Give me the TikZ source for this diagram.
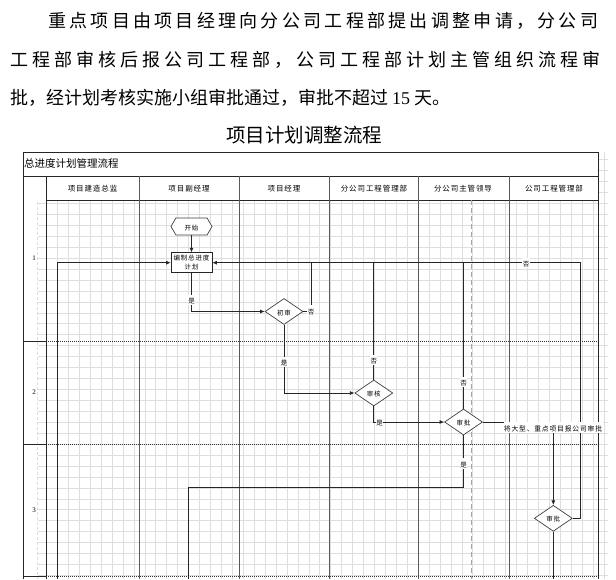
\documentclass[tikz,border=0pt]{standalone}
\usepackage{fontspec}
\setmainfont{Noto Sans CJK SC}
\newfontfamily\numfont{Liberation Serif}
\newfontfamily\spfont[LetterSpace=12]{Noto Sans CJK SC}
\usetikzlibrary{arrows.meta,shapes.geometric,shapes.symbols}
\newcommand\spreadbox[2]{{\spaceskip=0pt plus 1fil\xspaceskip=0pt plus 1fil\makebox[#1][s]{#2}}}
\tikzset{
 gridl/.style={draw=black!13, line width=0.5pt},
 frameline/.style={draw=black!85, line width=0.8pt},
 laneline/.style={draw=black!65, line width=0.9pt},
 rowdiv/.style={draw=black!80, line width=0.6pt, dash pattern=on 1pt off 1pt},
 conn/.style={draw=black!85, line width=0.7pt},
 arr/.style={conn, -{Latex[length=4.5pt,width=4pt]}},
 small/.style={font=\spfont\fontsize{6.5}{7.5}\selectfont, text height=0.82em, text depth=0.12em},
 dia/.style={diamond, draw=black!75, fill=white, line width=0.7pt, minimum width=38pt, minimum height=26pt, inner sep=0pt, small},
 lbl/.style={small, fill=white, inner sep=0.4pt},
 hdr/.style={font=\spfont\fontsize{7.5}{9}\selectfont, text height=0.82em, text depth=0.12em, inner sep=0pt},
 para/.style={font=\fontsize{18}{20}\selectfont, anchor=base west, inner sep=0pt},
}
\begin{document}
\begin{tikzpicture}[x=1pt,y=-1pt]
\useasboundingbox (0,0) rectangle (616,579);
\fill[white] (0,0) rectangle (616,579);
% paragraph
\node[para] (p1) at (48,27.8) {\spreadbox{550pt}{重 点 项 目 由 项 目 经 理 向 分 公 司 工 程 部 提 出 调 整 申 请 ， 分 公 司}};
\node[para] (p2) at (10,66.3) {\spreadbox{590pt}{工 程 部 审 核 后 报 公 司 工 程 部 ， 公 司 工 程 部 计 划 主 管 组 织 流 程 审}};
\node[para] (p3) at (10,104.8) {批，经计划考核实施小组审批通过，审批不超过 {\numfont 15} 天。};
\node[anchor=base, font=\fontsize{19.5}{22}\selectfont, inner sep=0pt] (ttl0) at (304,142) {项目计划调整流程};
% grid
\foreach \i in {1,...,52} \draw[gridl] ({35.5+10.93*\i},152) -- ({35.5+10.93*\i},579);
\foreach \j in {-4,...,34} \draw[gridl] (37.7,{203.4+10.94*\j}) -- (608,{203.4+10.94*\j});
\draw[gridl, dash pattern=on 3pt off 2pt] (37.7,152) -- (37.7,579);
\fill[white] (23,152) rectangle (598,200);
% frame
\draw[frameline] (23,152) -- (598,152);
\draw[frameline] (23,152) -- (23,579);
\draw[frameline] (598,152) -- (598,579);
\draw[frameline] (23,176) -- (598,176);
\draw[frameline] (46,200) -- (598,200);
\draw[frameline] (46,176) -- (46,579);
\foreach \x in {139.3,239,329,418.7,509.3} \draw[laneline] (\x,176) -- (\x,579);
\foreach \y in {341,444,576} {\draw[frameline] (23,\y) -- (46,\y); \draw[rowdiv] (46,\y) -- (598,\y);}
\draw[draw=black!35, line width=0.6pt, dash pattern=on 5pt off 3pt] (471.7,200) -- (471.7,579);
% titles and headers
\node[anchor=west, font=\fontsize{10.5}{12}\selectfont, inner sep=0pt, text height=0.82em, text depth=0.12em] (ttl) at (24,164) {总进度计划管理流程};
\node[hdr] (h1) at (92.5,188) {项目建造总监};
\node[hdr] (h2) at (189,188) {项目副经理};
\node[hdr] (h3) at (284,188) {项目经理};
\node[hdr] (h4) at (374,188) {分公司工程管理部};
\node[hdr] (h5) at (463,188) {分公司主管领导};
\node[hdr] (h6) at (554,188) {公司工程管理部};
\node[font=\numfont\fontsize{7}{8}\selectfont] (r1) at (34,258) {1};
\node[font=\numfont\fontsize{7}{8}\selectfont] (r2) at (34,392) {2};
\node[font=\numfont\fontsize{7}{8}\selectfont] (r3) at (34,510) {3};
% nodes
\node[signal, signal to=west and east, signal pointer angle=120, draw=black!75, fill=white, line width=0.7pt, minimum width=41pt, minimum height=17pt, inner sep=0pt, small] (start) at (191.5,226.5) {开始};
\node[draw=black!85, fill=white, line width=0.7pt, minimum width=41pt, minimum height=20pt, align=center, inner sep=0pt, font=\spfont\fontsize{6.5}{9.5}\selectfont] (box) at (191.5,262.7) {编制总进度\\计划};
\node[dia] (d1) at (284,311.5) {初审};
\node[dia] (d2) at (373.8,393) {审核};
\node[dia] (d3) at (463.5,422) {审批};
\node[dia] (d4) at (553.3,518.3) {审批};
% coordinates
\coordinate (inL) at (57.7,579);
\coordinate (j1) at (311,262.7);
\coordinate (j5) at (580.7,262.7);
\coordinate (j2) at (373.8,262.7);
\coordinate (j3) at (463.5,262.7);
\coordinate (b1) at (188.7,487.5);
\coordinate (e1) at (188.7,579);
\coordinate (e2) at (553.3,579);
% connectors
\draw[arr] (start.south) -- (box.north);
\draw[arr] (inL) |- (box.west);
\draw[arr] (box.south) |- (d1.west);
\draw[conn] (d1.east) -| (j1);
\draw[conn, line width=1.5pt] (j1) -- ([xshift=4pt]box.east);
\draw[arr] (d4.east) -| (j5) -- (box.east);
\draw[conn] (d2.north) -- (j2);
\draw[conn] (d3.north) -- (j3);
\draw[arr] (d1.south) |- (d2.west);
\draw[arr] (d2.south) |- (d3.west);
\draw[arr] (d3.east) -| (d4.north);
\draw[conn] (d3.south) |- (b1) -- (e1);
\draw[conn] (d4.south) -- (e2);
% labels
\node[lbl] (y1) at (191.5,300) {是};
\node[lbl] (n1) at (311,310.5) {否};
\node[lbl] (n5) at (526,262.7) {否};
\node[lbl] (y2) at (284,362) {是};
\node[lbl] (n2) at (373.8,360) {否};
\node[lbl] (y3) at (379.5,422) {是};
\node[lbl] (n3) at (463.5,382) {否};
\node[lbl] (y4) at (463.5,463.5) {是};
\node[lbl, font=\spfont\fontsize{6.8}{8}\selectfont] (t1) at (553,427.5) {将大型、重点项目报公司审批};
\end{tikzpicture}
\end{document}
